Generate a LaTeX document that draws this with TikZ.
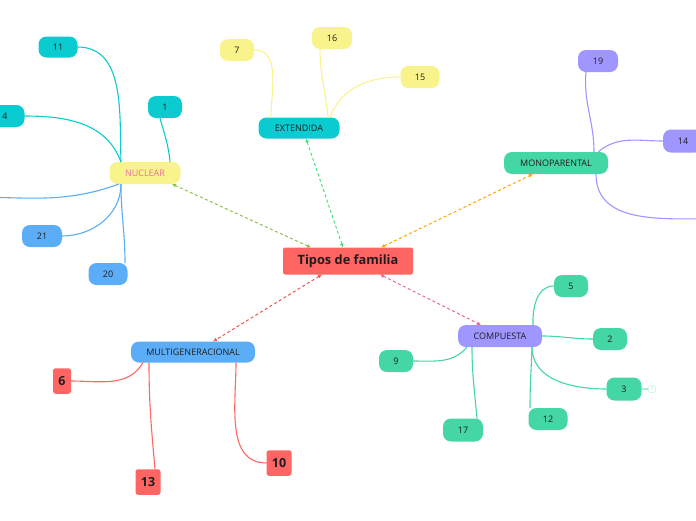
\documentclass[tikz,border=0pt]{standalone}
\usepackage{fontspec}
\setmainfont{Open Sans}
\usetikzlibrary{arrows.meta}

\definecolor{tealc}{RGB}{10,203,208}
\definecolor{yellc}{RGB}{249,243,140}
\definecolor{bluec}{RGB}{91,173,247}
\definecolor{purpc}{RGB}{159,151,255}
\definecolor{greenc}{RGB}{68,214,164}
\definecolor{redc}{RGB}{255,102,99}
\definecolor{pinkt}{RGB}{238,111,168}
\definecolor{darkt}{RGB}{30,30,30}
\definecolor{olivec}{RGB}{139,195,74}
\definecolor{mintc}{RGB}{74,222,128}
\definecolor{orangec}{RGB}{255,165,0}
\definecolor{rosec}{RGB}{240,98,146}
\definecolor{tomc}{RGB}{239,83,80}

\begin{document}
\begin{tikzpicture}[x=1pt,y=1pt,
    every node/.style={inner xsep=3pt, inner ysep=0pt, outer sep=0pt, text=darkt,
      font=\fontsize{9}{11}\selectfont},
    pill/.style={rounded corners=8pt, minimum height=22pt},
    redbox/.style={fill=redc, rounded corners=2.5pt, minimum height=25.5pt,
      font=\fontsize{12.5}{14}\selectfont\bfseries},
    link/.style={dash pattern=on 3pt off 2.5pt, line width=1pt,
      {Latex[length=4pt,width=4pt]}-{Latex[length=4pt,width=4pt]}},
    twig/.style={line width=1.1pt}]
  \useasboundingbox (0,0) rectangle (696,-520);
  \clip (0,0) rectangle (696,-520);

  % centre
  \node[fill=redc, rounded corners=2pt, minimum width=130pt, minimum height=27pt,
    font=\fontsize{12.8}{14}\selectfont\bfseries] (tipos) at (348,-261) {Tipos de familia};

  % main branches
  \node[pill, fill=yellc, text=pinkt, minimum width=71pt] (nuc) at (145,-173) {NUCLEAR};
  \node[pill, fill=tealc, minimum width=81pt, minimum height=21pt] (ext) at (299,-128) {EXTENDIDA};
  \node[pill, fill=greenc, minimum width=104pt] (mono) at (556,-163) {MONOPARENTAL};
  \node[pill, fill=purpc, minimum width=84pt] (comp) at (500,-336) {COMPUESTA};
  \node[pill, fill=bluec, minimum width=124pt, minimum height=21pt] (multi) at (193,-352) {MULTIGENERACIONAL};

  % leaves of nuclear
  \node[pill, fill=tealc, minimum width=39pt, minimum height=21pt] (n11) at (58,-47) {11};
  \node[pill, fill=tealc, minimum width=39pt] (n4) at (5,-116) {4};
  \node[pill, fill=tealc, minimum width=34pt] (n1) at (165,-107) {1};
  \node[pill, fill=bluec, minimum width=40pt] (n21) at (42,-236) {21};
  \node[pill, fill=bluec, minimum width=39pt] (n20) at (108,-274) {20};
  \coordinate (offL) at (-30,-197);

  % leaves of extendida
  \node[pill, fill=yellc, minimum width=34pt] (n7) at (237,-50) {7};
  \node[pill, fill=yellc, minimum width=40pt] (n16) at (332,-38) {16};
  \node[pill, fill=yellc, minimum width=39pt] (n15) at (420,-77) {15};

  % leaves of monoparental
  \node[pill, fill=purpc, minimum width=40pt] (n19) at (598,-61) {19};
  \node[pill, fill=purpc, minimum width=40pt, minimum height=23pt] (n14) at (683,-141) {14};
  \coordinate (offR) at (730,-219);

  % leaves of compuesta
  \node[pill, fill=greenc, minimum width=34pt] (n5) at (571,-286) {5};
  \node[pill, fill=greenc, minimum width=34pt] (n2) at (610,-339) {2};
  \node[pill, fill=greenc, minimum width=35pt, minimum height=23pt] (n3) at (624,-389) {3};
  \node[draw=greenc!45, circle, minimum size=8pt, inner sep=0pt, text=greenc!70,
    font=\fontsize{5}{5}\selectfont] (c3) at (652,-389) {1};
  \node[pill, fill=greenc, minimum width=39pt] (n12) at (548,-419) {12};
  \node[pill, fill=greenc, minimum width=40pt, minimum height=23pt] (n17) at (463,-430) {17};
  \node[pill, fill=greenc, minimum width=34pt] (n9) at (396,-361) {9};

  % leaves of multigeneracional
  \node[redbox, minimum width=18pt] (n6) at (62,-381) {6};
  \node[redbox, minimum width=25pt] (n13) at (148,-482) {13};
  \node[redbox, minimum width=25pt] (n10) at (279,-463) {10};

  % dashed links from the centre
  \draw[link, olivec] ([xshift=-37pt]tipos.north) -- ([xshift=27pt]nuc.south);
  \draw[link, mintc] ([xshift=-5pt]tipos.north) -- ([xshift=7pt]ext.south);
  \draw[link, orangec] ([xshift=33pt]tipos.north) -- ([xshift=-23pt]mono.south);
  \draw[link, rosec] ([xshift=32pt]tipos.south) -- ([xshift=-19pt]comp.north);
  \draw[link, tomc] ([xshift=-26pt]tipos.south) -- ([xshift=20pt]multi.north);

  % nuclear
  \draw[twig, tealc] ([xshift=-24pt]nuc.north) to[out=92,in=0] (n11.east);
  \draw[twig, tealc] ([xshift=-24pt]nuc.north) to[out=110,in=0] (n4.east);
  \draw[twig, tealc] ([xshift=25pt]nuc.north) to[out=95,in=-75] ([xshift=-5pt]n1.south);
  \draw[twig, bluec] ([xshift=-26pt]nuc.south) to[out=-160,in=0] (offL);
  \draw[twig, bluec] ([xshift=-24pt]nuc.south) to[out=-90,in=0] (n21.east);
  \draw[twig, bluec] ([xshift=-24pt]nuc.south) to[out=-90,in=90] ([xshift=17pt]n20.north);

  % extendida
  \draw[twig, yellc] ([xshift=-28pt]ext.north) to[out=90,in=0] (n7.east);
  \draw[twig, yellc] ([xshift=29pt]ext.north) to[out=95,in=-90] ([xshift=-12pt]n16.south);
  \draw[twig, yellc] ([xshift=31pt]ext.north) to[out=70,in=180] (n15.west);

  % monoparental
  \draw[twig, purpc] ([xshift=38pt]mono.north) to[out=90,in=-95] ([xshift=-12pt]n19.south);
  \draw[twig, purpc] ([xshift=42pt]mono.north) to[out=40,in=180] (n14.west);
  \draw[twig, purpc] ([xshift=40pt]mono.south) to[out=-90,in=178] (offR);

  % compuesta
  \draw[twig, greenc] ([xshift=33pt]comp.north) to[out=92,in=180] (n5.west);
  \draw[twig, greenc] (comp.east) to[out=0,in=180] (n2.west);
  \draw[twig, greenc] ([xshift=32pt]comp.south) to[out=-90,in=180] (n3.west);
  \draw[twig, greenc] ([xshift=32pt]comp.south) to[out=-92,in=90] ([xshift=-18pt]n12.north);
  \draw[twig, greenc] ([xshift=-28pt]comp.south) to[out=-90,in=95] ([xshift=14pt]n17.north);
  \draw[twig, greenc] ([xshift=-33pt]comp.south) to[out=-130,in=0] (n9.east);
  \draw[twig, greenc!45] (n3.east) -- (c3.west);

  % multigeneracional
  \draw[twig, redc] ([xshift=-50pt]multi.south) to[out=-120,in=0] (n6.east);
  \draw[twig, redc] ([xshift=-44pt]multi.south) to[out=-90,in=95] ([xshift=7pt]n13.north);
  \draw[twig, redc] ([xshift=43pt]multi.south) to[out=-90,in=180] (n10.west);
\end{tikzpicture}
\end{document}
